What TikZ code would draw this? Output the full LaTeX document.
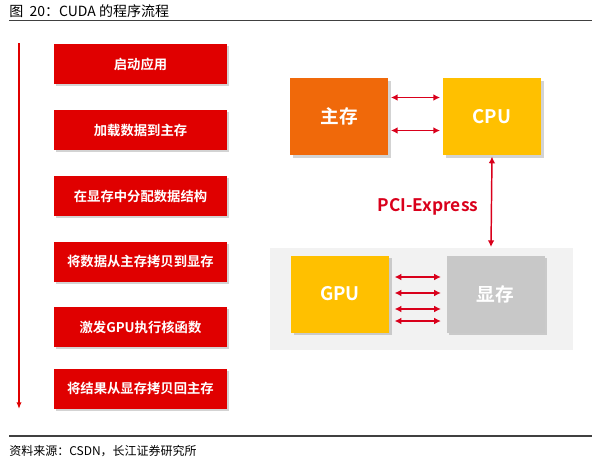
\documentclass[tikz,border=0pt]{standalone}
\usepackage{fontspec}
\setmainfont{Noto Sans CJK SC}
\newfontfamily\cjkb{Noto Sans CJK SC Bold}
\usetikzlibrary{arrows.meta,shadows}
\definecolor{cred}{HTML}{E00000}
\definecolor{corange}{HTML}{F0690A}
\definecolor{cyellow}{HTML}{FFC000}
\definecolor{cgray}{HTML}{C8C8C8}
\definecolor{cbg}{HTML}{F2F2F2}
\definecolor{arrowred}{HTML}{D9001B}
\tikzset{
 stepbox/.style={fill=cred,draw=none,minimum width=173*0.75pt,minimum height=40*0.75pt,text=white,font=\cjkb\fontsize{10}{12}\selectfont,drop shadow={shadow xshift=1.5pt,shadow yshift=-1.5pt,opacity=0.35}},
 bigbox/.style={draw=none,minimum width=98*0.75pt,minimum height=77*0.75pt,text=white,font=\cjkb\fontsize{14}{16}\selectfont,drop shadow={shadow xshift=2pt,shadow yshift=-2pt,opacity=0.35}},
 darr/.style={arrowred,line width=1.1pt,{Latex[length=5pt,width=5pt]}-{Latex[length=5pt,width=5pt]}}
}
\begin{document}
\begin{tikzpicture}[x=0.75pt,y=-0.75pt]
\useasboundingbox (0,0) rectangle (600,461);
\node[anchor=west,font=\fontsize{10.5}{12}\selectfont,inner sep=0] (title) at (9,11) {图\ \ 20：CUDA 的程序流程};
\draw[black!75,line width=1.2pt] (9,20.5) -- (592,20.5);
\coordinate (ltop) at (19,43);
\coordinate (lbot) at (19,409);
\draw[cred,line width=1pt,-{Latex[length=5pt,width=4pt]}] (ltop) -- (lbot);
\node[stepbox] (s1) at (140.5,64) {启动应用};
\node[stepbox] (s2) at (140.5,130) {加载数据到主存};
\node[stepbox] (s3) at (140.5,196) {在显存中分配数据结构};
\node[stepbox] (s4) at (140.5,261.5) {将数据从主存拷贝到显存};
\node[stepbox] (s5) at (140.5,327) {激发GPU执行核函数};
\node[stepbox] (s6) at (140.5,388.5) {将结果从显存拷贝回主存};
\fill[cbg] (270,248) rectangle (573,350);
\node[bigbox,fill=corange] (mem) at (339,116.5) {主存};
\node[bigbox,fill=cyellow] (cpu) at (492,116.5) {CPU};
\node[bigbox,fill=cyellow] (gpu) at (340,294) {GPU};
\node[bigbox,fill=cgray] (vram) at (495.5,294) {显存};
\node[text=arrowred,font=\cjkb\fontsize{13}{15}\selectfont] (pci) at (428,207) {PCI-Express};
\draw[darr] ([xshift=2pt,yshift=19*0.75pt]mem.east) -- ([xshift=-2pt,yshift=19*0.75pt]cpu.west);
\draw[darr] ([xshift=2pt,yshift=-14*0.75pt]mem.east) -- ([xshift=-2pt,yshift=-14*0.75pt]cpu.west);
\draw[darr] ([yshift=-1pt]cpu.south) -- (491,247);
\foreach \dy in {-17,-1,15,27}{
 \draw[darr] ([xshift=4pt,yshift=-\dy*0.75pt]gpu.east) -- ([xshift=-4pt,yshift=-\dy*0.75pt]vram.west);
}
\draw[black!75,line width=0.8pt] (9,436) -- (592,436);
\node[anchor=west,font=\fontsize{9}{11}\selectfont,inner sep=0] (src) at (9,451) {资料来源：CSDN，长江证券研究所};
\end{tikzpicture}
\end{document}
